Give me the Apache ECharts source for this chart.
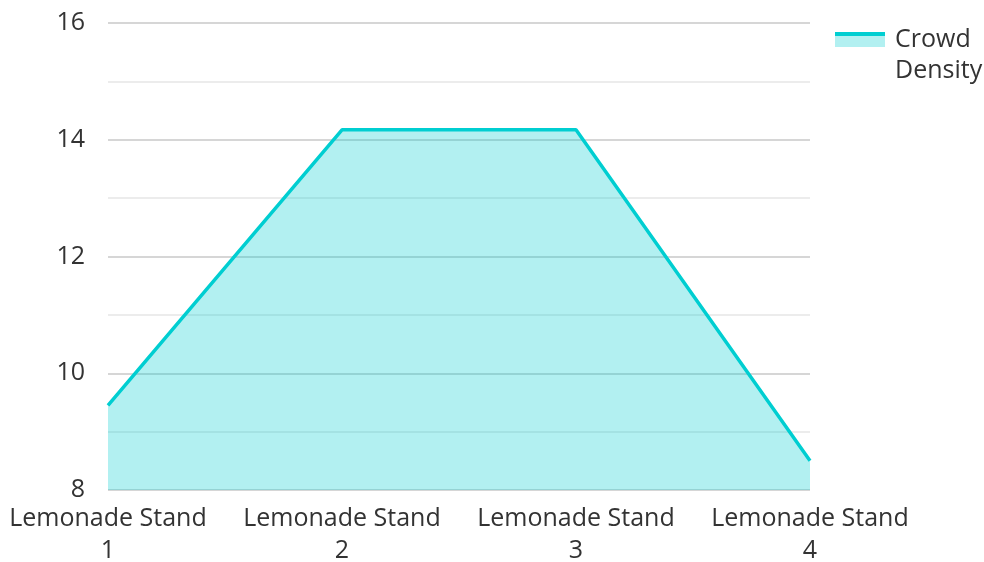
<!DOCTYPE html>
<html>
<head>
<meta charset="utf-8">
<script src="https://cdn.jsdelivr.net/npm/echarts@6/dist/echarts.min.js"></script>
<style>
  html, body { margin: 0; padding: 0; background: #fff; }
  #main { width: 984px; height: 562px; }
</style>
</head>
<body>
<div id="main"></div>
<script>
// data
var categories = ['Lemonade Stand\n1', 'Lemonade Stand\n2', 'Lemonade Stand\n3', 'Lemonade Stand\n4'];
var crowdDensity = [9.45, 14.17, 14.17, 8.5];
var seriesName = 'Crowd Density';

var teal = '#00ced1';
var myChart = echarts.init(document.getElementById('main'));

var option = {
    textStyle: { fontFamily: 'Open Sans' },
    grid: { left: 108, right: 174, top: 23, bottom: 72, outerBoundsMode: 'none', containLabel: false },
    legend: {
        left: 835,
        top: -7,
        padding: 0,
        orient: 'vertical',
        icon: 'rect',
        itemWidth: 50,
        itemHeight: 15,
        data: [{
            name: seriesName,
            itemStyle: {
                color: new echarts.graphic.LinearGradient(0, 0, 0, 1, [
                    { offset: 0, color: teal },
                    { offset: 0.27, color: teal },
                    { offset: 0.27, color: '#b2f0f1' },
                    { offset: 1, color: '#b2f0f1' }
                ])
            }
        }],
        // blank first line keeps the icon level with "Crowd"
        formatter: function () { return ' \nCrowd\nDensity'; },
        textStyle: { fontSize: 25, color: '#333', lineHeight: 31, padding: [0, 0, 0, 5] }
    },
    xAxis: {
        type: 'category',
        data: categories,
        boundaryGap: false,
        axisLine: { show: false },
        axisTick: { show: false },
        axisLabel: { fontSize: 25, color: '#333', lineHeight: 32, margin: 13, interval: 0 }
    },
    yAxis: {
        type: 'value',
        min: 8,
        max: 16,
        interval: 2,
        axisLine: { show: false },
        axisTick: { show: false },
        axisLabel: { fontSize: 25, color: '#333', margin: 23 },
        splitLine: { lineStyle: { color: '#c8c8c8', width: 1.5 } },
        minorTick: { show: false, splitNumber: 2 },
        minorSplitLine: { show: true, lineStyle: { color: '#e6e6e6', width: 1.5 } }
    },
    series: [
        {
            name: seriesName,
            type: 'line',
            data: crowdDensity,
            symbol: 'none',
            lineStyle: { color: teal, width: 3.5 },
            itemStyle: { color: teal },
            areaStyle: { color: teal, opacity: 0.3 }
        }
    ]
};
myChart.setOption(option);
</script>
</body>
</html>
